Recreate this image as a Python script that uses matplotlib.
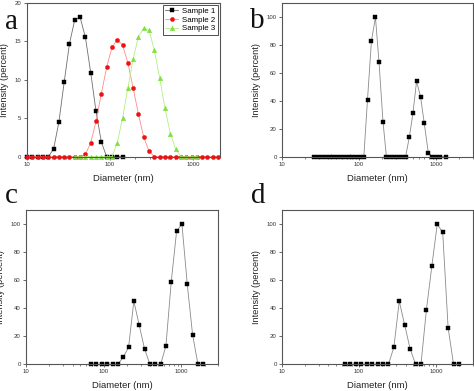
import numpy as np
import matplotlib
matplotlib.use('Agg')
import matplotlib.pyplot as plt
from matplotlib.ticker import FixedLocator, NullFormatter, LogLocator

plt.rcParams['font.family'] = ['Liberation Sans', 'DejaVu Sans']

# ---- painel a: tres amostras (bins do Zetasizer) ----
bins_a = [10.10, 11.70, 13.54, 15.69, 18.17, 21.04, 24.36, 28.21, 32.67, 37.84,
          43.82, 50.75, 58.77, 68.06, 78.82, 91.28, 105.7, 122.4, 141.8, 164.2,
          190.1, 220.2, 255.0, 295.3, 342.0, 396.1, 458.7, 531.2, 615.1, 712.4,
          825.0, 955.4, 1106, 1281, 1484, 1718, 1990]
s1_y = [0, 0, 0, 0, 0, 1.0, 4.5, 9.7, 14.7, 17.8, 18.1, 15.5, 10.9, 5.9, 1.9,
        0, 0, 0, 0]
s2_y = [0] * 11 + [0.3, 1.8, 4.6, 8.2, 11.6, 14.2, 15.2, 14.5, 12.2, 8.9, 5.5,
                   2.5, 0.7] + [0] * 13
s3_y = [0] * 8 + [1.8, 5.0, 8.9, 12.7, 15.6, 16.7, 16.4, 13.8, 10.2, 6.3, 3.0,
                  1.0, 0, 0, 0, 0]
s1_x = bins_a[:len(s1_y)]
s2_x = bins_a[:len(s2_y)]
s3_x = bins_a[9:9 + len(s3_y)]

# ---- painel b ----
b_x = [26.2, 29.4, 33.0, 36.9, 41.4, 46.4, 51.9, 58.2, 65.2, 73.1, 81.8, 91.7,
       102.8, 115.1, 128.5, 144.5, 162.9, 181.1, 204.2, 225.9, 254.7, 283.8,
       319.2, 356.5, 400.9, 447.7, 498.9, 555.9, 626.6, 699.8, 788.9, 887.2,
       1000, 1114, 1346]
b_y = [0] * 14 + [41, 83, 100, 68, 25, 0, 0, 0, 0, 0, 0, 14, 31, 54, 43, 24, 3,
                  0, 0, 0, 0]

# ---- painel c ----
c_x = [69.0, 80.9, 94.8, 111.0, 130.1, 152.4, 178.6, 209.3, 245.1, 287.2, 336.6,
       394.4, 462.1, 541.5, 634.5, 743.4, 871.1, 1020, 1195, 1400, 1641, 1923]
c_y = [0, 0, 0, 0, 0, 0, 5, 12, 45, 28, 11, 0, 0, 0, 13, 59, 95, 100, 57, 21, 0, 0]

# ---- painel d ----
d_x = [65.6, 77.1, 90.7, 106.7, 125.5, 147.6, 173.5, 204.0, 239.9, 282.2, 331.8,
       390.2, 458.9, 539.6, 634.6, 746.3, 877.6, 1032, 1214, 1427, 1679, 1974]
d_y = [0, 0, 0, 0, 0, 0, 0, 0, 0, 12, 45, 28, 11, 0, 0, 39, 70, 100, 94, 26, 0, 0]

W, H = 474, 391
fig = plt.figure(figsize=(W / 100, H / 100), dpi=100)


def px_axes(l, t, r, b):
    return fig.add_axes([l / W, 1 - b / H, (r - l) / W, (b - t) / H])


def style(ax, xmax, ymax, yticks):
    ax.set_xscale('log')
    ax.set_xlim(10, xmax)
    ax.set_ylim(0, ymax)
    ax.xaxis.set_major_locator(FixedLocator([10, 100, 1000]))
    ax.set_xticklabels(['10', '100', '1000'])
    ax.xaxis.set_minor_locator(LogLocator(base=10, subs=np.arange(2, 10)))
    ax.xaxis.set_minor_formatter(NullFormatter())
    ax.set_yticks(yticks)
    ax.set_yticklabels([str(v) for v in yticks])
    for s in ax.spines.values():
        s.set_color('#555555')
        s.set_linewidth(0.8)
    ax.tick_params(which='major', direction='out', length=2.2, width=0.6,
                   color='#555555', labelsize=4.3, labelcolor='#333333', pad=1.5)
    ax.tick_params(which='minor', direction='out', length=1.2, width=0.5,
                   color='#555555')
    ax.set_xlabel('Diameter (nm)', fontsize=6.8, color='#222222', labelpad=5)
    ax.set_ylabel('Intensity (percent)', fontsize=6.6, color='#222222', labelpad=4)


# painel a
ax_a = px_axes(26.7, 2.7, 220, 156.7)
ax_a.plot(s1_x, s1_y, '-', color='#6e6e6e', lw=0.6, marker='s', ms=2.7, mew=0.3,
          mfc='black', mec='black', label='Sample 1', clip_on=False)
ax_a.plot(s2_x, s2_y, '-', color='#ff8a8a', lw=0.6, marker='o', ms=3.0, mew=0.3,
          mfc='#ee1111', mec='#ee1111', label='Sample 2', clip_on=False)
ax_a.plot(s3_x, s3_y, '-', color='#b0f080', lw=0.6, marker='^', ms=3.3, mew=0.3,
          mfc='#80e040', mec='#80e040', label='Sample 3', clip_on=False)
style(ax_a, 2100, 20, [0, 5, 10, 15, 20])
leg = ax_a.legend(loc='upper right', fontsize=5.7, frameon=True, fancybox=False,
                  edgecolor='#333333', framealpha=1, borderaxespad=0.3,
                  handlelength=1.6, handletextpad=0.5, borderpad=0.3,
                  labelspacing=0.15)
leg.get_frame().set_linewidth(0.6)

# paineis b, c, d
panels = [((282, 3.3, 473, 156.7), b_x, b_y),
          ((26, 210, 218.3, 364.3), c_x, c_y),
          ((282, 210, 473, 364.3), d_x, d_y)]
for box, xs, ys in panels:
    ax = px_axes(*box)
    ax.plot(xs, ys, '-', color='#8a8a8a', lw=0.6, marker='s', ms=2.8, mew=0.3,
            mfc='black', mec='black', clip_on=False)
    style(ax, 3000, 110, [0, 20, 40, 60, 80, 100])

# letras dos paineis
for letter, x, y in [('a', 5, 28.7), ('b', 250, 28.3), ('c', 5, 203), ('d', 251, 203)]:
    fig.text(x / W, 1 - y / H, letter, family='Liberation Serif', fontsize=21,
             ha='left', va='baseline', color='#111111')

fig.savefig('out.png', dpi=100)
